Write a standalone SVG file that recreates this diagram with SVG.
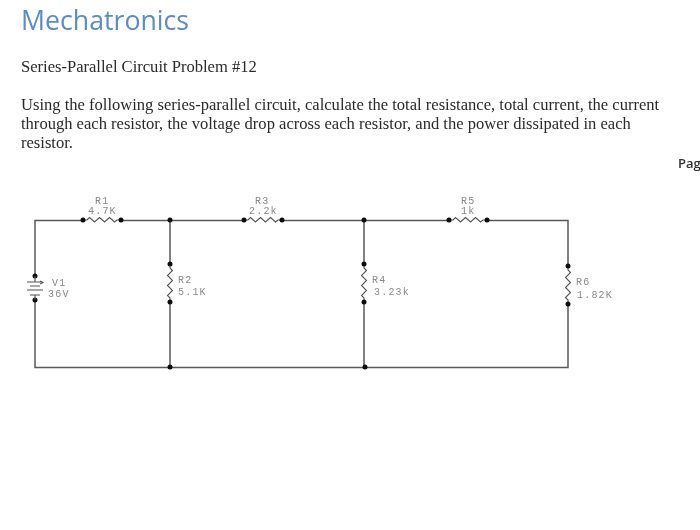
<svg xmlns="http://www.w3.org/2000/svg" width="700" height="530" viewBox="0 0 700 530">
<defs>
<style>
.w{fill:none;stroke:#5a5a5a;stroke-width:1.5}
.r{fill:none;stroke:#555;stroke-width:1.1}
.d{fill:#111}
.l{font-family:"Liberation Mono",monospace;font-size:10px;letter-spacing:1.200px;fill:#8a8a8a}
.b{font-family:"Liberation Serif",serif;font-size:16.560px;fill:#2b2b2b}
</style>
<filter id="soft" x="0" y="0" width="100%" height="100%"><feGaussianBlur stdDeviation="0.4"/></filter>
<path id="hr" d="M-19 0H-15l2.500-2.500l5 4.500l5-4.500l5 4.500l5-4.500l5 4.500l2.500-2H19" class="r"/>
<path id="vr" d="M0-19V-15l2.500 2.500l-5 5l5 5l-5 5l5 5l-5 5l2.500 2.500V19" class="r"/>
</defs>
<rect width="700" height="530" fill="#fff"/>
<g filter="url(#soft)">
<text x="21" y="30" font-family="Open Sans,Noto Sans,sans-serif" font-size="26.700" fill="#5b8cc8">Mechatronics</text>
<text x="21" y="72" class="b">Series-Parallel Circuit Problem #12</text>
<text x="21" y="110" class="b">Using the following series-parallel circuit, calculate the total resistance, total current, the current</text>
<text x="21" y="129" class="b">through each resistor, the voltage drop across each resistor, and the power dissipated in each</text>
<text x="21" y="148" class="b">resistor.</text>
<text x="678" y="168" font-family="Open Sans,Noto Sans,sans-serif" font-size="13" font-weight="600" fill="#333">Pag</text>
<g id="connectors">
<path class="w" d="M35 276V220.500H83M121 220.500H244M282 220.500H449M487 220.500H568V266M568 304V367.500H35V300"/>
<path class="w" d="M170 220V264M170 302V367M364 220V264M364 302V367"/>
</g>
<g id="V1">
<circle class="d" cx="35" cy="276" r="2.500"/><circle class="d" cx="35" cy="300" r="2.500"/>
<path class="r" d="M35 276V282M35 295V300M27 282H43M30 286H40M27 290H43M30 295H40M40 281l3 1.500l-3 1.500"/>
<text class="l" x="52" y="286">V1</text><text class="l" x="48" y="297">36V</text>
</g>
<g id="R1"><use href="#hr" x="102" y="220"/><circle class="d" cx="83" cy="220" r="2.500"/><circle class="d" cx="121" cy="220" r="2.500"/><text class="l" x="95" y="204">R1</text><text class="l" x="88" y="214">4.7K</text></g>
<g id="R3"><use href="#hr" x="263" y="220"/><circle class="d" cx="244" cy="220" r="2.500"/><circle class="d" cx="282" cy="220" r="2.500"/><text class="l" x="255" y="204">R3</text><text class="l" x="249" y="214">2.2k</text></g>
<g id="R5"><use href="#hr" x="468" y="220"/><circle class="d" cx="449" cy="220" r="2.500"/><circle class="d" cx="487" cy="220" r="2.500"/><text class="l" x="461" y="204">R5</text><text class="l" x="461" y="214">1k</text></g>
<g id="R2"><use href="#vr" x="170" y="283"/><circle class="d" cx="170" cy="264" r="2.500"/><circle class="d" cx="170" cy="302" r="2.500"/><text class="l" x="178" y="283">R2</text><text class="l" x="178" y="295">5.1K</text></g>
<g id="R4"><use href="#vr" x="364" y="283"/><circle class="d" cx="364" cy="264" r="2.500"/><circle class="d" cx="364" cy="302" r="2.500"/><text class="l" x="372" y="283">R4</text><text class="l" x="374" y="295">3.23k</text></g>
<g id="R6"><use href="#vr" x="568" y="285"/><circle class="d" cx="568" cy="266" r="2.500"/><circle class="d" cx="568" cy="304" r="2.500"/><text class="l" x="576" y="285">R6</text><text class="l" x="577" y="298">1.82K</text></g>
<g id="junctions"><circle class="d" cx="170" cy="220" r="2.500"/><circle class="d" cx="364" cy="220" r="2.500"/><circle class="d" cx="170" cy="367" r="2.500"/><circle class="d" cx="365" cy="367" r="2.500"/></g>
</g>
</svg>
